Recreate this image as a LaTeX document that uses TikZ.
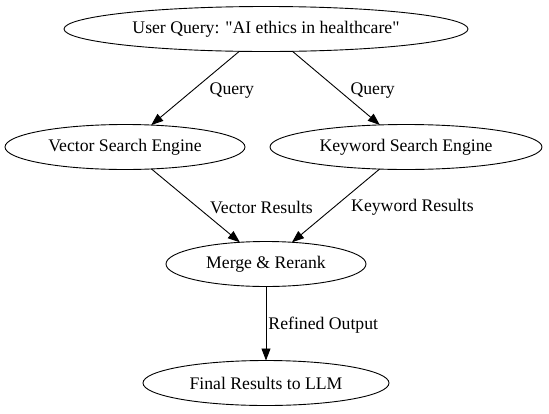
\documentclass[tikz,border=0pt]{standalone}
\usepackage{fontspec}
\setmainfont{Liberation Serif}
\usetikzlibrary{shapes.geometric,arrows.meta,positioning}

\tikzset{
    stage/.style={draw, ellipse, inner sep=0pt, outer sep=0pt, minimum height=45pt, line width=0.9pt},
    flow/.style={-{Triangle[length=12pt,width=9pt]}, line width=0.9pt},
    lbl/.style={inner sep=0pt, anchor=west, yshift=-2pt}
}

\begin{document}
\begin{tikzpicture}[x=1pt, y=-1pt, font=\fontsize{17.7}{21}\selectfont]
        \useasboundingbox (0,0) rectangle (549,413);
        % nodes
        \node[stage, minimum width=404pt] (query)   at (266,29)  {User Query: \textquotedbl AI ethics in healthcare\textquotedbl};
        \node[stage, minimum width=240pt] (vector)  at (125,147) {Vector Search Engine};
        \node[stage, minimum width=272pt] (keyword) at (406,147) {Keyword Search Engine};
        \node[stage, minimum width=200pt] (merge)   at (266,264) {Merge \& Rerank};
        \node[stage, minimum width=246pt] (final)   at (266,383) {Final Results to LLM};
        % edges
        \draw[flow] (query) -- (vector)  node[lbl, midway, xshift=14pt] (qv) {Query};
        \draw[flow] (query) -- (keyword) node[lbl, midway, xshift=14pt] (qk) {Query};
        \draw[flow] (vector) -- (merge)  node[lbl, midway, xshift=14pt] (vm) {Vector Results};
        \draw[flow] (keyword) -- (merge) node[lbl, midway, xshift=15pt] (km) {Keyword Results};
        \draw[flow] (merge) -- (final)   node[lbl, midway, xshift=2pt]  (mf) {Refined Output};
\end{tikzpicture}
\end{document}
